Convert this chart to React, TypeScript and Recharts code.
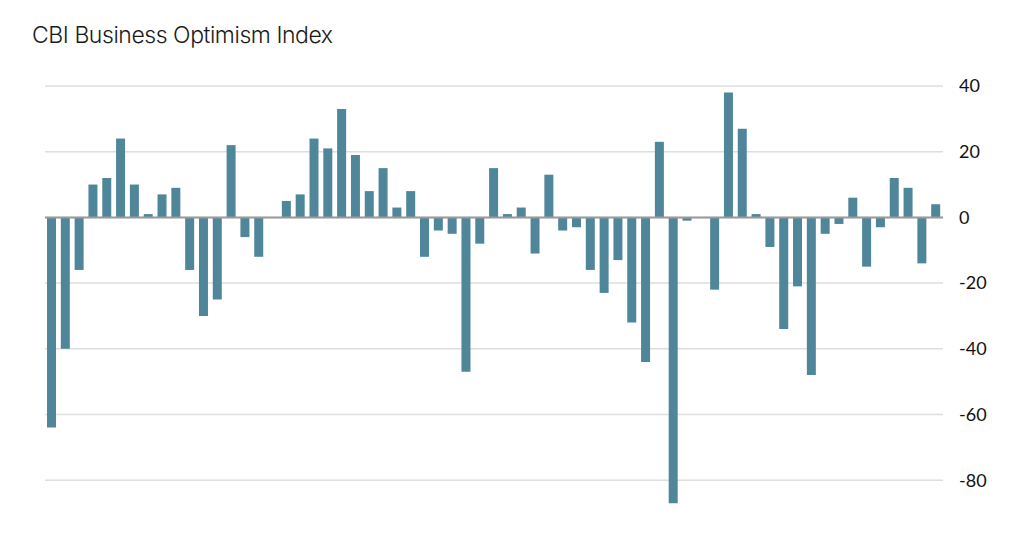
import { BarChart, Bar, XAxis, YAxis, CartesianGrid, ReferenceLine } from "recharts";

// quarterly readings, Q1 2009 .. Q1 2025
const QUARTERS = [
  "2009 Q1", "2009 Q2", "2009 Q3", "2009 Q4",
  "2010 Q1", "2010 Q2", "2010 Q3", "2010 Q4",
  "2011 Q1", "2011 Q2", "2011 Q3", "2011 Q4",
  "2012 Q1", "2012 Q2", "2012 Q3", "2012 Q4",
  "2013 Q1", "2013 Q2", "2013 Q3", "2013 Q4",
  "2014 Q1", "2014 Q2", "2014 Q3", "2014 Q4",
  "2015 Q1", "2015 Q2", "2015 Q3", "2015 Q4",
  "2016 Q1", "2016 Q2", "2016 Q3", "2016 Q4",
  "2017 Q1", "2017 Q2", "2017 Q3", "2017 Q4",
  "2018 Q1", "2018 Q2", "2018 Q3", "2018 Q4",
  "2019 Q1", "2019 Q2", "2019 Q3", "2019 Q4",
  "2020 Q1", "2020 Q2", "2020 Q3", "2020 Q4",
  "2021 Q1", "2021 Q2", "2021 Q3", "2021 Q4",
  "2022 Q1", "2022 Q2", "2022 Q3", "2022 Q4",
  "2023 Q1", "2023 Q2", "2023 Q3", "2023 Q4",
  "2024 Q1", "2024 Q2", "2024 Q3", "2024 Q4",
  "2025 Q1",
];

const OPTIMISM = [
  -64, -40, -16, 10, 12, 24, 10, 1, 7, 9,
  -16, -30, -25, 22, -6, -12, 0, 5, 7, 24,
  21, 33, 19, 8, 15, 3, 8, -12, -4, -5,
  -47, -8, 15, 1, 3, -11, 13, -4, -3, -16,
  -23, -13, -32, -44, 23, -87, -1, 0, -22, 38,
  27, 1, -9, -34, -21, -48, -5, -2, 6, -15,
  -3, 12, 9, -14, 4,
];

const Y_TICKS = [40, 20, 0, -20, -40, -60, -80];

const data = QUARTERS.map((quarter, i) => ({ quarter, value: OPTIMISM[i] }));

export default function App() {
  return (
    <div
      style={{
        position: "absolute",
        left: 0,
        top: 0,
        width: 1024,
        height: 536,
        background: "#fff",
        fontFamily: "Inter, 'Noto Sans', sans-serif",
      }}
    >
      <div
        style={{
          position: "absolute",
          left: 32,
          top: 21,
          fontSize: 23,
          fontWeight: 300,
          letterSpacing: -0.45,
          color: "#1a1a1a",
          whiteSpace: "nowrap",
        }}
      >
        CBI Business Optimism Index
      </div>
      <BarChart
        width={1024}
        height={536}
        data={data}
        margin={{ top: 86, right: 0, bottom: 23, left: 45 }}
      >
        <CartesianGrid
          vertical={false}
          horizontalValues={Y_TICKS}
          stroke="#dedede"
          strokeWidth={1.5}
        />
        <XAxis dataKey="quarter" hide />
        <YAxis
          orientation="right"
          width={81}
          domain={[-90, 40]}
          ticks={Y_TICKS}
          interval={0}
          axisLine={false}
          tickLine={false}
          tickSize={0}
          tickMargin={16}
          tick={{ fontSize: 18, fill: "#111", fontFamily: "Lato, 'Open Sans', sans-serif" }}
        />
        <ReferenceLine y={0} stroke="#9a9a9a" strokeWidth={2} />
        <Bar dataKey="value" fill="#4f8699" barSize={9} isAnimationActive={false} />
      </BarChart>
    </div>
  );
}
